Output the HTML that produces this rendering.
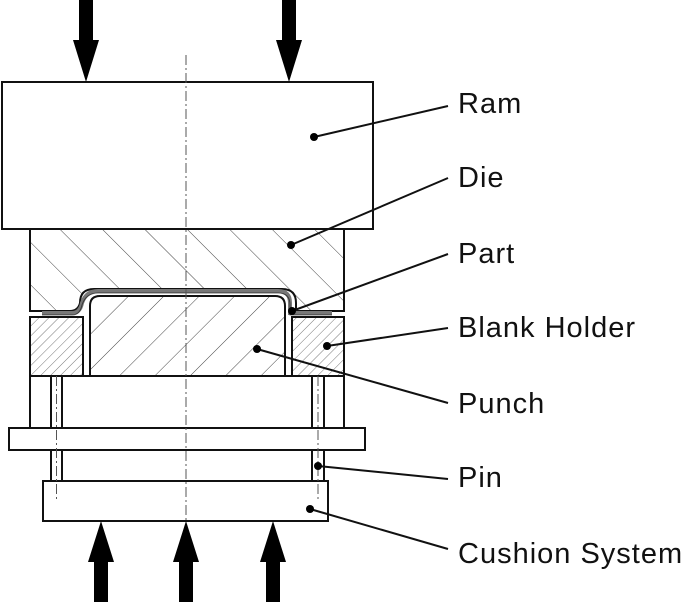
<!DOCTYPE html>
<html><head><style>
html,body{margin:0;padding:0;background:#fff;}
svg{display:block;}
text{font-family:"Liberation Sans",Arial,sans-serif;font-size:29px;letter-spacing:1px;fill:#111;}
</style></head><body>
<svg width="685" height="602" viewBox="0 0 685 602" xmlns="http://www.w3.org/2000/svg">
<defs>
<pattern id="hd" patternUnits="userSpaceOnUse" width="30" height="30" patternTransform="rotate(-45)">
<line x1="0" y1="0" x2="0" y2="30" stroke="#444" stroke-width="1"/></pattern>
<pattern id="hp" patternUnits="userSpaceOnUse" width="25" height="25" patternTransform="rotate(45)">
<line x1="0" y1="0" x2="0" y2="25" stroke="#444" stroke-width="1"/></pattern>
<pattern id="hb" patternUnits="userSpaceOnUse" width="7" height="7" patternTransform="rotate(45)">
<line x1="0" y1="0" x2="0" y2="7" stroke="#555" stroke-width="0.8"/></pattern>
</defs>
<g stroke="#111" stroke-width="2" fill="none">
<rect x="2" y="82" width="371" height="147" fill="#fff"/>
<path d="M30 229 H344 V311 H296 V303 Q296 289 282 289 H94 Q80 289 80 303 Q78 311 70 311 H30 Z" fill="url(#hd)"/>
<rect x="30" y="317" width="53" height="59" fill="url(#hb)"/>
<rect x="292" y="317" width="52" height="59" fill="url(#hb)"/>
<path d="M90 376 V306 Q90 296 100 296 H275 Q285 296 285 306 V376 Z" fill="url(#hp)"/>
<rect x="30" y="376" width="314" height="52" fill="#fff"/>
<rect x="9" y="428" width="356" height="22" fill="#fff"/>
<rect x="51" y="376" width="11" height="52" fill="#fff"/>
<rect x="312" y="376" width="12" height="52" fill="#fff"/>
<rect x="51" y="450" width="11" height="31" fill="#fff"/>
<rect x="312" y="450" width="12" height="31" fill="#fff"/>
<rect x="43" y="481" width="285" height="40" fill="#fff"/>
</g>
<path d="M42 313 H72 Q80 313 82 303 Q86 291 98 291 H278 Q290 291 290 303 V313 H332" stroke="#777" stroke-width="4" fill="none"/>
<path d="M42 313 H72 Q80 313 82 303 Q86 291 98 291 H278 Q290 291 290 303 V313 H332" stroke="#111" stroke-width="1" fill="none" transform="translate(0,2)" opacity="0.6"/>
<g stroke="#555" stroke-width="1" stroke-dasharray="10,3,2,3" fill="none">
<line x1="186" y1="55" x2="186" y2="602"/>
<line x1="56.5" y1="376" x2="56.5" y2="500"/>
<line x1="318" y1="376" x2="318" y2="500"/>
</g>
<g fill="#000">
<path d="M79 0 H93 V40 H99 L86 82 L73 40 H79 Z"/>
<path d="M282 0 H296 V40 H302 L289 82 L276 40 H282 Z"/>
<path d="M101 521 L114 562 H108 V602 H94 V562 H88 Z"/>
<path d="M186 521 L199 562 H193 V602 H179 V562 H173 Z"/>
<path d="M273 521 L286 562 H280 V602 H266 V562 H260 Z"/>
</g>
<g stroke="#111" stroke-width="2">
<line x1="314" y1="137" x2="448" y2="106"/>
<line x1="291" y1="245" x2="448" y2="178"/>
<line x1="292" y1="311" x2="448" y2="254"/>
<line x1="327" y1="346" x2="448" y2="328"/>
<line x1="257" y1="349" x2="448" y2="403"/>
<line x1="318" y1="466" x2="448" y2="479"/>
<line x1="310" y1="509" x2="448" y2="549"/>
</g>
<g fill="#000">
<circle cx="314" cy="137" r="4"/><circle cx="291" cy="245" r="4"/><circle cx="292" cy="311" r="4"/>
<circle cx="327" cy="346" r="4"/><circle cx="257" cy="349" r="4"/><circle cx="318" cy="466" r="4"/><circle cx="310" cy="509" r="4"/>
</g>
<text x="458" y="113">Ram</text>
<text x="458" y="187">Die</text>
<text x="458" y="263">Part</text>
<text x="458" y="337">Blank Holder</text>
<text x="458" y="413">Punch</text>
<text x="458" y="487">Pin</text>
<text x="458" y="563">Cushion System</text>
</svg>
</body></html>
